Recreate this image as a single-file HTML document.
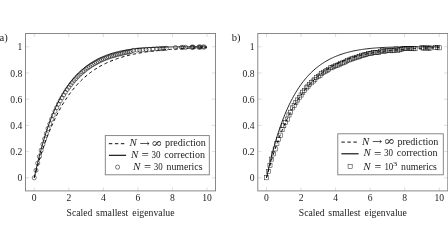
<!DOCTYPE html><html><head><meta charset="utf-8"><title>Smallest eigenvalue CDF</title>
<style>html,body{margin:0;padding:0;background:#fff;overflow:hidden}svg{display:block}text{font-family:"Liberation Serif","DejaVu Serif",serif;fill:#222}.i{font-style:italic}.m{font-family:"DejaVu Serif","Liberation Serif",serif}</style></head><body>
<svg width="448" height="252" viewBox="0 0 448 252">
<rect width="448" height="252" fill="#fff"/>
<g>
<path d="M34.27 190.9v-3.6M34.27 33.5v3.6M68.81 190.9v-3.6M68.81 33.5v3.6M103.35 190.9v-3.6M103.35 33.5v3.6M137.89 190.9v-3.6M137.89 33.5v3.6M172.43 190.9v-3.6M172.43 33.5v3.6M206.97 190.9v-3.6M206.97 33.5v3.6M25.55 177.8h3.6M215.55 177.8h-3.6M25.55 151.6h3.6M215.55 151.6h-3.6M25.55 125.4h3.6M215.55 125.4h-3.6M25.55 99.2h3.6M215.55 99.2h-3.6M25.55 73h3.6M215.55 73h-3.6M25.55 46.8h3.6M215.55 46.8h-3.6" stroke="#aaa" stroke-width="0.4" fill="none"/>
<g stroke="#000" stroke-width="0.5" fill="none"><circle cx="34.27" cy="177.8" r="2.07"/><circle cx="36" cy="170.36" r="2.07"/><circle cx="37.72" cy="163.15" r="2.07"/><circle cx="39.45" cy="156.58" r="2.07"/><circle cx="41.18" cy="150.27" r="2.07"/><circle cx="42.91" cy="144.27" r="2.07"/><circle cx="44.63" cy="138.82" r="2.07"/><circle cx="46.36" cy="133.58" r="2.07"/><circle cx="48.09" cy="128.49" r="2.07"/><circle cx="49.81" cy="123.87" r="2.07"/><circle cx="51.54" cy="119.3" r="2.07"/><circle cx="53.27" cy="115.3" r="2.07"/><circle cx="54.99" cy="111.27" r="2.07"/><circle cx="56.72" cy="107.59" r="2.07"/><circle cx="58.45" cy="104.13" r="2.07"/><circle cx="60.18" cy="100.85" r="2.07"/><circle cx="61.9" cy="97.81" r="2.07"/><circle cx="63.63" cy="94.88" r="2.07"/><circle cx="65.36" cy="92.19" r="2.07"/><circle cx="67.08" cy="89.52" r="2.07"/><circle cx="68.81" cy="87.17" r="2.07"/><circle cx="70.54" cy="84.81" r="2.07"/><circle cx="72.26" cy="82.64" r="2.07"/><circle cx="73.99" cy="80.52" r="2.07"/><circle cx="75.72" cy="78.69" r="2.07"/><circle cx="77.45" cy="76.68" r="2.07"/><circle cx="79.17" cy="75.11" r="2.07"/><circle cx="80.9" cy="73.5" r="2.07"/><circle cx="82.63" cy="71.81" r="2.07"/><circle cx="84.35" cy="70.59" r="2.07"/><circle cx="86.08" cy="69.06" r="2.07"/><circle cx="87.81" cy="67.79" r="2.07"/><circle cx="89.53" cy="66.7" r="2.07"/><circle cx="91.26" cy="65.33" r="2.07"/><circle cx="92.99" cy="64.46" r="2.07"/><circle cx="94.72" cy="63.44" r="2.07"/><circle cx="96.44" cy="62.49" r="2.07"/><circle cx="98.17" cy="61.65" r="2.07"/><circle cx="99.9" cy="60.7" r="2.07"/><circle cx="101.62" cy="59.8" r="2.07"/><circle cx="103.35" cy="59.15" r="2.07"/><circle cx="105.08" cy="58.43" r="2.07"/><circle cx="106.8" cy="57.74" r="2.07"/><circle cx="108.53" cy="57.11" r="2.07"/><circle cx="110.26" cy="56.49" r="2.07"/><circle cx="111.99" cy="55.96" r="2.07"/><circle cx="113.71" cy="55.62" r="2.07"/><circle cx="115.44" cy="54.93" r="2.07"/><circle cx="117.17" cy="54.47" r="2.07"/><circle cx="118.89" cy="54.13" r="2.07"/><circle cx="120.62" cy="53.65" r="2.07"/><circle cx="122.35" cy="53.27" r="2.07"/><circle cx="124.07" cy="52.8" r="2.07"/><circle cx="125.8" cy="52.53" r="2.07"/><circle cx="127.53" cy="52.16" r="2.07"/><circle cx="129.25" cy="51.85" r="2.07"/><circle cx="130.98" cy="51.53" r="2.07"/><circle cx="133.3" cy="50.4" r="2.07"/><circle cx="137.1" cy="50.16" r="2.07"/><circle cx="139.6" cy="50" r="2.07"/><circle cx="142.8" cy="49.8" r="2.07"/><circle cx="146" cy="49.59" r="2.07"/><circle cx="149.1" cy="49.39" r="2.07"/><circle cx="153" cy="49.15" r="2.07"/><circle cx="156.8" cy="48.9" r="2.07"/><circle cx="159.9" cy="48.71" r="2.07"/><circle cx="162" cy="48.57" r="2.07"/><circle cx="163.8" cy="48.46" r="2.07"/><circle cx="166.3" cy="48.3" r="2.07"/><circle cx="175.5" cy="47.6" r="2.07"/><circle cx="181.5" cy="47.43" r="2.07"/><circle cx="183.2" cy="47.38" r="2.07"/><circle cx="185.8" cy="47.31" r="2.07"/><circle cx="191.7" cy="47.21" r="2.07"/><circle cx="192.5" cy="47.19" r="2.07"/><circle cx="193.3" cy="47.18" r="2.07"/><circle cx="198.7" cy="47.09" r="2.07"/><circle cx="199.5" cy="47.08" r="2.07"/><circle cx="200.4" cy="47.06" r="2.07"/><circle cx="203.3" cy="47.01" r="2.07"/><circle cx="204.2" cy="47" r="2.07"/></g>
<path d="M34.27 177.8 L35.35 173.77 L36.43 169.86 L37.51 166.08 L38.59 162.41 L39.67 158.85 L40.75 155.4 L41.83 152.06 L42.91 148.82 L43.98 145.68 L45.06 142.64 L46.14 139.69 L47.22 136.83 L48.3 134.06 L49.38 131.38 L50.46 128.78 L51.54 126.26 L52.62 123.81 L53.7 121.44 L54.78 119.15 L55.86 116.92 L56.94 114.76 L58.02 112.67 L59.1 110.64 L60.18 108.68 L61.25 106.78 L62.33 104.93 L63.41 103.14 L64.49 101.41 L65.57 99.73 L66.65 98.1 L67.73 96.52 L68.81 94.99 L69.89 93.51 L70.97 92.07 L72.05 90.68 L73.13 89.33 L74.21 88.02 L75.29 86.75 L76.37 85.52 L77.44 84.33 L78.52 83.18 L79.6 82.06 L80.68 80.97 L81.76 79.92 L82.84 78.9 L83.92 77.92 L85 76.96 L86.08 76.03 L87.16 75.13 L88.24 74.26 L89.32 73.41 L90.4 72.6 L91.48 71.8 L92.56 71.03 L93.64 70.29 L94.72 69.56 L95.79 68.86 L96.87 68.19 L97.95 67.53 L99.03 66.89 L100.11 66.27 L101.19 65.67 L102.27 65.09 L103.35 64.53 L104.43 63.98 L105.51 63.45 L106.59 62.94 L107.67 62.45 L108.75 61.96 L109.83 61.5 L110.91 61.05 L111.99 60.61 L113.06 60.18 L114.14 59.77 L115.22 59.37 L116.3 58.98 L117.38 58.61 L118.46 58.25 L119.54 57.89 L120.62 57.55 L121.7 57.22 L122.78 56.9 L123.86 56.59 L124.94 56.29 L126.02 56 L127.1 55.71 L128.18 55.44 L129.25 55.17 L130.33 54.92 L131.41 54.67 L132.49 54.43 L133.57 54.19 L134.65 53.96 L135.73 53.74 L136.81 53.53 L137.89 53.32 L138.97 53.12 L140.05 52.93 L141.13 52.74 L142.21 52.56 L143.29 52.38 L144.37 52.21 L145.45 52.04 L146.53 51.88 L147.6 51.72 L148.68 51.57 L149.76 51.42 L150.84 51.28 L151.92 51.14 L153 51.01 L154.08 50.88 L155.16 50.76 L156.24 50.63 L157.32 50.52 L158.4 50.4 L159.48 50.29 L160.56 50.18 L161.64 50.08 L162.72 49.98 L163.8 49.88 L164.87 49.79 L165.95 49.69 L167.03 49.61 L168.11 49.52 L169.19 49.44 L170.27 49.35 L171.35 49.28 L172.43 49.2 L173.51 49.13 L174.59 49.05 L175.67 48.98 L176.75 48.92 L177.83 48.85 L178.91 48.79 L179.99 48.73 L181.06 48.67 L182.14 48.61 L183.22 48.56 L184.3 48.5 L185.38 48.45 L186.46 48.4 L187.54 48.35 L188.62 48.3 L189.7 48.26 L190.78 48.21 L191.86 48.17 L192.94 48.13 L194.02 48.08 L195.1 48.04 L196.18 48.01 L197.26 47.97 L198.34 47.93 L199.41 47.9 L200.49 47.86 L201.57 47.83 L202.65 47.8 L203.73 47.77 L204.81 47.74 L205.89 47.71 L206.97 47.68" stroke="#000" stroke-width="1" fill="none" stroke-dasharray="3.3 2.7"/>
<path d="M34.27 177.8 L35.35 172.82 L36.43 168.03 L37.51 163.42 L38.59 158.99 L39.67 154.73 L40.75 150.62 L41.83 146.68 L42.91 142.88 L43.98 139.22 L45.06 135.71 L46.14 132.33 L47.22 129.07 L48.3 125.94 L49.38 122.93 L50.46 120.03 L51.54 117.24 L52.62 114.55 L53.7 111.96 L54.78 109.47 L55.86 107.08 L56.94 104.77 L58.02 102.55 L59.1 100.41 L60.18 98.36 L61.25 96.37 L62.33 94.47 L63.41 92.63 L64.49 90.86 L65.57 89.15 L66.65 87.51 L67.73 85.93 L68.81 84.41 L69.89 82.94 L70.97 81.53 L72.05 80.16 L73.13 78.85 L74.21 77.59 L75.29 76.37 L76.37 75.2 L77.44 74.07 L78.52 72.98 L79.6 71.93 L80.68 70.92 L81.76 69.94 L82.84 69 L83.92 68.1 L85 67.22 L86.08 66.38 L87.16 65.57 L88.24 64.79 L89.32 64.04 L90.4 63.32 L91.48 62.62 L92.56 61.95 L93.64 61.3 L94.72 60.68 L95.79 60.08 L96.87 59.5 L97.95 58.94 L99.03 58.4 L100.11 57.89 L101.19 57.39 L102.27 56.91 L103.35 56.45 L104.43 56.01 L105.51 55.58 L106.59 55.17 L107.67 54.78 L108.75 54.4 L109.83 54.04 L110.91 53.69 L111.99 53.35 L113.06 53.03 L114.14 52.72 L115.22 52.43 L116.3 52.14 L117.38 51.87 L118.46 51.61 L119.54 51.36 L120.62 51.12 L121.7 50.89 L122.78 50.67 L123.86 50.46 L124.94 50.26 L126.02 50.06 L127.1 49.88 L128.18 49.71 L129.25 49.54 L130.33 49.38 L131.41 49.23 L132.49 49.08 L133.57 48.95 L134.65 48.82 L135.73 48.69 L136.81 48.57 L137.89 48.46 L138.97 48.35 L140.05 48.25 L141.13 48.16 L142.21 48.07 L143.29 47.98 L144.37 47.9 L145.45 47.83 L146.53 47.75 L147.6 47.69 L148.68 47.62 L149.76 47.56 L150.84 47.51 L151.92 47.45 L153 47.4 L154.08 47.36 L155.16 47.31 L156.24 47.27 L157.32 47.24 L158.4 47.2 L159.48 47.17 L160.56 47.14 L161.64 47.11 L162.72 47.08 L163.8 47.06 L164.87 47.03 L165.95 47.01 L167.03 46.99 L168.11 46.98 L169.19 46.96 L170.27 46.95 L171.35 46.93 L172.43 46.92 L173.51 46.91 L174.59 46.9 L175.67 46.89 L176.75 46.88 L177.83 46.87 L178.91 46.86 L179.99 46.86 L181.06 46.85 L182.14 46.84 L183.22 46.84 L184.3 46.83 L185.38 46.83 L186.46 46.83 L187.54 46.82 L188.62 46.82 L189.7 46.82 L190.78 46.82 L191.86 46.81 L192.94 46.81 L194.02 46.81 L195.1 46.81 L196.18 46.81 L197.26 46.81 L198.34 46.81 L199.41 46.81 L200.49 46.8 L201.57 46.8 L202.65 46.8 L203.73 46.8 L204.81 46.8 L205.89 46.8 L206.97 46.8" stroke="#000" stroke-width="0.85" fill="none"/>
<rect x="25.55" y="33.5" width="190" height="157.4" fill="none" stroke="#7c7c7c" stroke-width="0.9"/>
<text x="34.27" y="200.6" font-size="9.6" text-anchor="middle">0</text>
<text x="68.81" y="200.6" font-size="9.6" text-anchor="middle">2</text>
<text x="103.35" y="200.6" font-size="9.6" text-anchor="middle">4</text>
<text x="137.89" y="200.6" font-size="9.6" text-anchor="middle">6</text>
<text x="172.43" y="200.6" font-size="9.6" text-anchor="middle">8</text>
<text x="206.97" y="200.6" font-size="9.6" text-anchor="middle">10</text>
<text x="22.35" y="181.4" font-size="9.6" text-anchor="end">0</text>
<text x="22.35" y="155.2" font-size="9.6" text-anchor="end">0.2</text>
<text x="22.35" y="129" font-size="9.6" text-anchor="end">0.4</text>
<text x="22.35" y="102.8" font-size="9.6" text-anchor="end">0.6</text>
<text x="22.35" y="76.6" font-size="9.6" text-anchor="end">0.8</text>
<text x="22.35" y="50.4" font-size="9.6" text-anchor="end">1</text>
<text x="66.6" y="216.1" font-size="9.6" textLength="25.8" lengthAdjust="spacingAndGlyphs">Scaled</text>
<text x="96.1" y="216.1" font-size="9.6" textLength="32.2" lengthAdjust="spacingAndGlyphs">smallest</text>
<text x="132.3" y="216.1" font-size="9.6" textLength="42.3" lengthAdjust="spacingAndGlyphs">eigenvalue</text>
<text x="-0.45" y="41.2" font-size="10.6">a)</text>
<rect x="105.3" y="135.6" width="104.0" height="39.2" fill="#fff" stroke="#7c7c7c" stroke-width="0.9"/>
<path d="M108.9 143.7h15.6" stroke="#000" stroke-width="0.95" stroke-dasharray="3.4 2.6"/>
<path d="M108.9 155.3h17.2" stroke="#000" stroke-width="1.1"/>
<circle cx="117.6" cy="167.1" r="2.07" stroke="#000" stroke-width="0.5" fill="none"/>
<text x="129.6" y="146" font-size="9.6" class="i" textLength="7.3" lengthAdjust="spacingAndGlyphs">N</text>
<text x="139.5" y="146.9" font-size="10.5" class="m" textLength="10.4" lengthAdjust="spacingAndGlyphs">→</text>
<text x="151" y="146.7" font-size="12" class="m" textLength="11.6" lengthAdjust="spacingAndGlyphs">∞</text>
<text x="164.9" y="146" font-size="9.6" textLength="41" lengthAdjust="spacingAndGlyphs">prediction</text>
<text x="131" y="157.5" font-size="9.6" class="i" textLength="7.3" lengthAdjust="spacingAndGlyphs">N</text>
<text x="141.5" y="159.1" font-size="12" textLength="7.4" lengthAdjust="spacingAndGlyphs">=</text>
<text x="151.5" y="157.5" font-size="9.6" textLength="9" lengthAdjust="spacingAndGlyphs">30</text>
<text x="164.3" y="157.5" font-size="9.6" textLength="40.6" lengthAdjust="spacingAndGlyphs">correction</text>
<text x="133.1" y="169.5" font-size="9.6" class="i" textLength="7.4" lengthAdjust="spacingAndGlyphs">N</text>
<text x="143.9" y="171.1" font-size="12" textLength="7.1" lengthAdjust="spacingAndGlyphs">=</text>
<text x="153.8" y="169.5" font-size="9.6" textLength="8.9" lengthAdjust="spacingAndGlyphs">30</text>
<text x="166.5" y="169.5" font-size="9.6" textLength="36" lengthAdjust="spacingAndGlyphs">numerics</text>
</g>
<g>
<path d="M266.52 190.9v-3.6M266.52 33.5v3.6M301.06 190.9v-3.6M301.06 33.5v3.6M335.6 190.9v-3.6M335.6 33.5v3.6M370.14 190.9v-3.6M370.14 33.5v3.6M404.68 190.9v-3.6M404.68 33.5v3.6M439.22 190.9v-3.6M439.22 33.5v3.6M257.8 177.8h3.6M447.8 177.8h-3.6M257.8 151.6h3.6M447.8 151.6h-3.6M257.8 125.4h3.6M447.8 125.4h-3.6M257.8 99.2h3.6M447.8 99.2h-3.6M257.8 73h3.6M447.8 73h-3.6M257.8 46.8h3.6M447.8 46.8h-3.6" stroke="#aaa" stroke-width="0.4" fill="none"/>
<g stroke="#000" stroke-width="0.45" fill="none"><rect x="264.47" y="175.75" width="4.1" height="4.1"/><rect x="266.2" y="169.46" width="4.1" height="4.1"/><rect x="267.92" y="163.16" width="4.1" height="4.1"/><rect x="269.65" y="157.05" width="4.1" height="4.1"/><rect x="271.38" y="151.82" width="4.1" height="4.1"/><rect x="273.11" y="146.9" width="4.1" height="4.1"/><rect x="274.83" y="141.26" width="4.1" height="4.1"/><rect x="276.56" y="137.26" width="4.1" height="4.1"/><rect x="278.29" y="133.08" width="4.1" height="4.1"/><rect x="280.01" y="127.68" width="4.1" height="4.1"/><rect x="281.74" y="123.73" width="4.1" height="4.1"/><rect x="283.47" y="120.6" width="4.1" height="4.1"/><rect x="285.19" y="117.03" width="4.1" height="4.1"/><rect x="286.92" y="112.92" width="4.1" height="4.1"/><rect x="288.65" y="110.12" width="4.1" height="4.1"/><rect x="290.38" y="105.9" width="4.1" height="4.1"/><rect x="292.1" y="103.53" width="4.1" height="4.1"/><rect x="293.83" y="100.64" width="4.1" height="4.1"/><rect x="295.56" y="97.93" width="4.1" height="4.1"/><rect x="297.28" y="95.29" width="4.1" height="4.1"/><rect x="299.01" y="92.95" width="4.1" height="4.1"/><rect x="300.74" y="90.1" width="4.1" height="4.1"/><rect x="302.46" y="88.28" width="4.1" height="4.1"/><rect x="304.19" y="85.88" width="4.1" height="4.1"/><rect x="305.92" y="84.08" width="4.1" height="4.1"/><rect x="307.65" y="82.41" width="4.1" height="4.1"/><rect x="309.37" y="80.76" width="4.1" height="4.1"/><rect x="311.1" y="78.96" width="4.1" height="4.1"/><rect x="312.83" y="77.55" width="4.1" height="4.1"/><rect x="314.55" y="75.22" width="4.1" height="4.1"/><rect x="316.28" y="74.65" width="4.1" height="4.1"/><rect x="318.01" y="73.09" width="4.1" height="4.1"/><rect x="319.73" y="71.66" width="4.1" height="4.1"/><rect x="321.46" y="70.41" width="4.1" height="4.1"/><rect x="323.19" y="69.13" width="4.1" height="4.1"/><rect x="324.92" y="68.23" width="4.1" height="4.1"/><rect x="326.64" y="67.56" width="4.1" height="4.1"/><rect x="328.37" y="65.86" width="4.1" height="4.1"/><rect x="330.1" y="65.52" width="4.1" height="4.1"/><rect x="331.82" y="64.54" width="4.1" height="4.1"/><rect x="333.55" y="63.83" width="4.1" height="4.1"/><rect x="335.28" y="63.12" width="4.1" height="4.1"/><rect x="337" y="62.74" width="4.1" height="4.1"/><rect x="338.73" y="61.35" width="4.1" height="4.1"/><rect x="340.46" y="60.91" width="4.1" height="4.1"/><rect x="342.19" y="60.21" width="4.1" height="4.1"/><rect x="343.91" y="59.17" width="4.1" height="4.1"/><rect x="345.64" y="58.44" width="4.1" height="4.1"/><rect x="347.37" y="57.87" width="4.1" height="4.1"/><rect x="349.09" y="57.02" width="4.1" height="4.1"/><rect x="350.82" y="56.28" width="4.1" height="4.1"/><rect x="352.55" y="55.96" width="4.1" height="4.1"/><rect x="354.27" y="55.22" width="4.1" height="4.1"/><rect x="356" y="54.9" width="4.1" height="4.1"/><rect x="357.73" y="54.54" width="4.1" height="4.1"/><rect x="359.45" y="53.16" width="4.1" height="4.1"/><rect x="361.18" y="53.16" width="4.1" height="4.1"/><rect x="362.91" y="52.7" width="4.1" height="4.1"/><rect x="364.64" y="52.23" width="4.1" height="4.1"/><rect x="366.36" y="51.6" width="4.1" height="4.1"/><rect x="368.09" y="51.56" width="4.1" height="4.1"/><rect x="369.82" y="51.02" width="4.1" height="4.1"/><rect x="371.54" y="50.55" width="4.1" height="4.1"/><rect x="373.27" y="50.34" width="4.1" height="4.1"/><rect x="375" y="50.42" width="4.1" height="4.1"/><rect x="376.72" y="50.55" width="4.1" height="4.1"/><rect x="378.45" y="49.37" width="4.1" height="4.1"/><rect x="380.18" y="48.75" width="4.1" height="4.1"/><rect x="381.91" y="49.5" width="4.1" height="4.1"/><rect x="383.63" y="48.92" width="4.1" height="4.1"/><rect x="385.36" y="48.22" width="4.1" height="4.1"/><rect x="387.09" y="48.24" width="4.1" height="4.1"/><rect x="388.81" y="48.06" width="4.1" height="4.1"/><rect x="390.54" y="48.74" width="4.1" height="4.1"/><rect x="392.27" y="48.56" width="4.1" height="4.1"/><rect x="393.99" y="46.94" width="4.1" height="4.1"/><rect x="395.72" y="48.15" width="4.1" height="4.1"/><rect x="397.45" y="47.79" width="4.1" height="4.1"/><rect x="399.18" y="47.54" width="4.1" height="4.1"/><rect x="400.9" y="46.71" width="4.1" height="4.1"/><rect x="402.63" y="46.45" width="4.1" height="4.1"/><rect x="404.36" y="46.59" width="4.1" height="4.1"/><rect x="406.08" y="46.34" width="4.1" height="4.1"/><rect x="407.81" y="46.65" width="4.1" height="4.1"/><rect x="409.54" y="46.27" width="4.1" height="4.1"/><rect x="411.26" y="46.69" width="4.1" height="4.1"/><rect x="412.99" y="46.72" width="4.1" height="4.1"/><rect x="419.9" y="45.75" width="4.1" height="4.1"/><rect x="421.63" y="45.98" width="4.1" height="4.1"/><rect x="423.35" y="45.97" width="4.1" height="4.1"/><rect x="425.08" y="45.83" width="4.1" height="4.1"/><rect x="426.81" y="46.36" width="4.1" height="4.1"/><rect x="428.53" y="45.87" width="4.1" height="4.1"/><rect x="433.72" y="45.66" width="4.1" height="4.1"/><rect x="435.44" y="45.56" width="4.1" height="4.1"/><rect x="437.17" y="45.8" width="4.1" height="4.1"/></g>
<path d="M266.52 177.8 L267.6 173.77 L268.68 169.86 L269.76 166.08 L270.84 162.41 L271.92 158.85 L273 155.4 L274.08 152.06 L275.16 148.82 L276.23 145.68 L277.31 142.64 L278.39 139.69 L279.47 136.83 L280.55 134.06 L281.63 131.38 L282.71 128.78 L283.79 126.26 L284.87 123.81 L285.95 121.44 L287.03 119.15 L288.11 116.92 L289.19 114.76 L290.27 112.67 L291.35 110.64 L292.43 108.68 L293.5 106.78 L294.58 104.93 L295.66 103.14 L296.74 101.41 L297.82 99.73 L298.9 98.1 L299.98 96.52 L301.06 94.99 L302.14 93.51 L303.22 92.07 L304.3 90.68 L305.38 89.33 L306.46 88.02 L307.54 86.75 L308.62 85.52 L309.7 84.33 L310.77 83.18 L311.85 82.06 L312.93 80.97 L314.01 79.92 L315.09 78.9 L316.17 77.92 L317.25 76.96 L318.33 76.03 L319.41 75.13 L320.49 74.26 L321.57 73.41 L322.65 72.6 L323.73 71.8 L324.81 71.03 L325.89 70.29 L326.97 69.56 L328.04 68.86 L329.12 68.19 L330.2 67.53 L331.28 66.89 L332.36 66.27 L333.44 65.67 L334.52 65.09 L335.6 64.53 L336.68 63.98 L337.76 63.45 L338.84 62.94 L339.92 62.45 L341 61.96 L342.08 61.5 L343.16 61.05 L344.24 60.61 L345.31 60.18 L346.39 59.77 L347.47 59.37 L348.55 58.98 L349.63 58.61 L350.71 58.25 L351.79 57.89 L352.87 57.55 L353.95 57.22 L355.03 56.9 L356.11 56.59 L357.19 56.29 L358.27 56 L359.35 55.71 L360.43 55.44 L361.51 55.17 L362.58 54.92 L363.66 54.67 L364.74 54.43 L365.82 54.19 L366.9 53.96 L367.98 53.74 L369.06 53.53 L370.14 53.32 L371.22 53.12 L372.3 52.93 L373.38 52.74 L374.46 52.56 L375.54 52.38 L376.62 52.21 L377.7 52.04 L378.78 51.88 L379.85 51.72 L380.93 51.57 L382.01 51.42 L383.09 51.28 L384.17 51.14 L385.25 51.01 L386.33 50.88 L387.41 50.76 L388.49 50.63 L389.57 50.52 L390.65 50.4 L391.73 50.29 L392.81 50.18 L393.89 50.08 L394.97 49.98 L396.05 49.88 L397.12 49.79 L398.2 49.69 L399.28 49.61 L400.36 49.52 L401.44 49.44 L402.52 49.35 L403.6 49.28 L404.68 49.2 L405.76 49.13 L406.84 49.05 L407.92 48.98 L409 48.92 L410.08 48.85 L411.16 48.79 L412.24 48.73 L413.32 48.67 L414.39 48.61 L415.47 48.56 L416.55 48.5 L417.63 48.45 L418.71 48.4 L419.79 48.35 L420.87 48.3 L421.95 48.26 L423.03 48.21 L424.11 48.17 L425.19 48.13 L426.27 48.08 L427.35 48.04 L428.43 48.01 L429.51 47.97 L430.59 47.93 L431.66 47.9 L432.74 47.86 L433.82 47.83 L434.9 47.8 L435.98 47.77 L437.06 47.74 L438.14 47.71 L439.22 47.68" stroke="#000" stroke-width="1" fill="none" stroke-dasharray="3.3 2.7"/>
<path d="M266.52 177.8 L267.6 172.82 L268.68 168.03 L269.76 163.42 L270.84 158.99 L271.92 154.73 L273 150.62 L274.08 146.68 L275.16 142.88 L276.23 139.22 L277.31 135.71 L278.39 132.33 L279.47 129.07 L280.55 125.94 L281.63 122.93 L282.71 120.03 L283.79 117.24 L284.87 114.55 L285.95 111.96 L287.03 109.47 L288.11 107.08 L289.19 104.77 L290.27 102.55 L291.35 100.41 L292.43 98.36 L293.5 96.37 L294.58 94.47 L295.66 92.63 L296.74 90.86 L297.82 89.15 L298.9 87.51 L299.98 85.93 L301.06 84.41 L302.14 82.94 L303.22 81.53 L304.3 80.16 L305.38 78.85 L306.46 77.59 L307.54 76.37 L308.62 75.2 L309.7 74.07 L310.77 72.98 L311.85 71.93 L312.93 70.92 L314.01 69.94 L315.09 69 L316.17 68.1 L317.25 67.22 L318.33 66.38 L319.41 65.57 L320.49 64.79 L321.57 64.04 L322.65 63.32 L323.73 62.62 L324.81 61.95 L325.89 61.3 L326.97 60.68 L328.04 60.08 L329.12 59.5 L330.2 58.94 L331.28 58.4 L332.36 57.89 L333.44 57.39 L334.52 56.91 L335.6 56.45 L336.68 56.01 L337.76 55.58 L338.84 55.17 L339.92 54.78 L341 54.4 L342.08 54.04 L343.16 53.69 L344.24 53.35 L345.31 53.03 L346.39 52.72 L347.47 52.43 L348.55 52.14 L349.63 51.87 L350.71 51.61 L351.79 51.36 L352.87 51.12 L353.95 50.89 L355.03 50.67 L356.11 50.46 L357.19 50.26 L358.27 50.06 L359.35 49.88 L360.43 49.71 L361.51 49.54 L362.58 49.38 L363.66 49.23 L364.74 49.08 L365.82 48.95 L366.9 48.82 L367.98 48.69 L369.06 48.57 L370.14 48.46 L371.22 48.35 L372.3 48.25 L373.38 48.16 L374.46 48.07 L375.54 47.98 L376.62 47.9 L377.7 47.83 L378.78 47.75 L379.85 47.69 L380.93 47.62 L382.01 47.56 L383.09 47.51 L384.17 47.45 L385.25 47.4 L386.33 47.36 L387.41 47.31 L388.49 47.27 L389.57 47.24 L390.65 47.2 L391.73 47.17 L392.81 47.14 L393.89 47.11 L394.97 47.08 L396.05 47.06 L397.12 47.03 L398.2 47.01 L399.28 46.99 L400.36 46.98 L401.44 46.96 L402.52 46.95 L403.6 46.93 L404.68 46.92 L405.76 46.91 L406.84 46.9 L407.92 46.89 L409 46.88 L410.08 46.87 L411.16 46.86 L412.24 46.86 L413.32 46.85 L414.39 46.84 L415.47 46.84 L416.55 46.83 L417.63 46.83 L418.71 46.83 L419.79 46.82 L420.87 46.82 L421.95 46.82 L423.03 46.82 L424.11 46.81 L425.19 46.81 L426.27 46.81 L427.35 46.81 L428.43 46.81 L429.51 46.81 L430.59 46.81 L431.66 46.81 L432.74 46.8 L433.82 46.8 L434.9 46.8 L435.98 46.8 L437.06 46.8 L438.14 46.8 L439.22 46.8" stroke="#000" stroke-width="0.85" fill="none"/>
<rect x="257.8" y="33.5" width="190" height="157.4" fill="none" stroke="#7c7c7c" stroke-width="0.9"/>
<text x="266.52" y="200.6" font-size="9.6" text-anchor="middle">0</text>
<text x="301.06" y="200.6" font-size="9.6" text-anchor="middle">2</text>
<text x="335.6" y="200.6" font-size="9.6" text-anchor="middle">4</text>
<text x="370.14" y="200.6" font-size="9.6" text-anchor="middle">6</text>
<text x="404.68" y="200.6" font-size="9.6" text-anchor="middle">8</text>
<text x="439.22" y="200.6" font-size="9.6" text-anchor="middle">10</text>
<text x="254.6" y="181.4" font-size="9.6" text-anchor="end">0</text>
<text x="254.6" y="155.2" font-size="9.6" text-anchor="end">0.2</text>
<text x="254.6" y="129" font-size="9.6" text-anchor="end">0.4</text>
<text x="254.6" y="102.8" font-size="9.6" text-anchor="end">0.6</text>
<text x="254.6" y="76.6" font-size="9.6" text-anchor="end">0.8</text>
<text x="254.6" y="50.4" font-size="9.6" text-anchor="end">1</text>
<text x="298.85" y="216.1" font-size="9.6" textLength="25.8" lengthAdjust="spacingAndGlyphs">Scaled</text>
<text x="328.35" y="216.1" font-size="9.6" textLength="32.2" lengthAdjust="spacingAndGlyphs">smallest</text>
<text x="364.55" y="216.1" font-size="9.6" textLength="42.3" lengthAdjust="spacingAndGlyphs">eigenvalue</text>
<text x="231.8" y="41.2" font-size="10.6">b)</text>
<rect x="337.8" y="133.8" width="105.5" height="41" fill="#fff" stroke="#7c7c7c" stroke-width="0.9"/>
<path d="M341.4 142.1h15.6" stroke="#000" stroke-width="0.95" stroke-dasharray="3.4 2.6"/>
<path d="M341.4 153.8h17.2" stroke="#000" stroke-width="1.1"/>
<rect x="348.05" y="164.45" width="4.1" height="4.1" stroke="#000" stroke-width="0.45" fill="none"/>
<text x="362.1" y="144.5" font-size="9.6" class="i" textLength="7.3" lengthAdjust="spacingAndGlyphs">N</text>
<text x="372" y="145.4" font-size="10.5" class="m" textLength="10.4" lengthAdjust="spacingAndGlyphs">→</text>
<text x="383.5" y="145.2" font-size="12" class="m" textLength="11.6" lengthAdjust="spacingAndGlyphs">∞</text>
<text x="397.4" y="144.5" font-size="9.6" textLength="41" lengthAdjust="spacingAndGlyphs">prediction</text>
<text x="363.5" y="156.2" font-size="9.6" class="i" textLength="7.3" lengthAdjust="spacingAndGlyphs">N</text>
<text x="374" y="157.8" font-size="12" textLength="7.4" lengthAdjust="spacingAndGlyphs">=</text>
<text x="384" y="156.2" font-size="9.6" textLength="9" lengthAdjust="spacingAndGlyphs">30</text>
<text x="396.8" y="156.2" font-size="9.6" textLength="40.6" lengthAdjust="spacingAndGlyphs">correction</text>
<text x="363.2" y="169.8" font-size="9.6" class="i" textLength="7.4" lengthAdjust="spacingAndGlyphs">N</text>
<text x="374.4" y="171.4" font-size="12" textLength="6.8" lengthAdjust="spacingAndGlyphs">=</text>
<text x="384.4" y="169.8" font-size="9.6" textLength="8.9" lengthAdjust="spacingAndGlyphs">10</text>
<text x="393.1" y="165.9" font-size="6.9" textLength="4.3" lengthAdjust="spacingAndGlyphs">3</text>
<text x="401" y="169.8" font-size="9.6" textLength="35.9" lengthAdjust="spacingAndGlyphs">numerics</text>
</g>
</svg></body></html>
